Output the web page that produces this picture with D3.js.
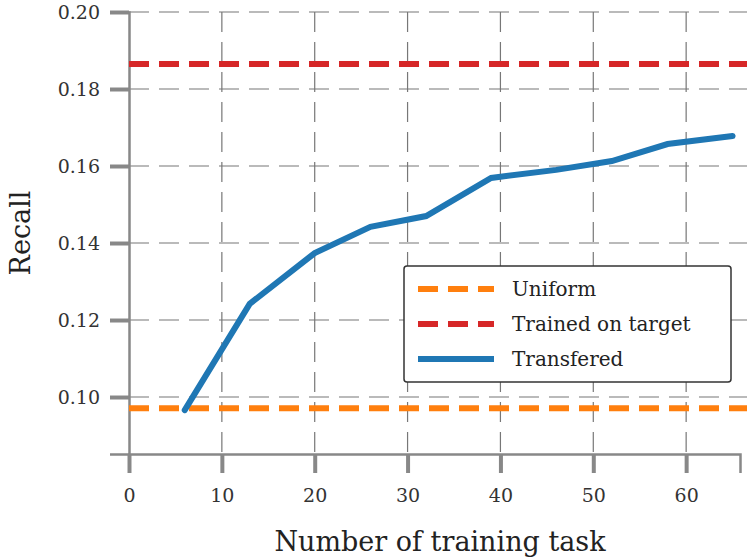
<!DOCTYPE html>
<html><head><meta charset="utf-8">
<script src="https://cdn.jsdelivr.net/npm/d3@7"></script>
<style>body{margin:0;background:#fff}text{font-family:"DejaVu Serif",serif}</style>
</head><body>
<script>
const tasks = [6, 13, 20, 26, 32, 39, 46, 52, 58, 65];
const transfered = [0.0966, 0.1242, 0.1374, 0.1442, 0.147, 0.1569, 0.159, 0.1613, 0.1657, 0.1678];
const uniform = 0.0971;
const target = 0.1865;
const xTicks = [0, 10, 20, 30, 40, 50, 60];
const yTicks = [0.10, 0.12, 0.14, 0.16, 0.18, 0.20];

const W = 747, H = 560;
const m = {left: 129, top: 12, right: 7, bottom: 106};
const svg = d3.select('body').append('svg').attr('width', W).attr('height', H);

const x = d3.scaleLinear().domain([0, 65.8]).range([m.left, W - m.right]);
const y = d3.scaleLinear().domain([0.0852, 0.20]).range([H - m.bottom, m.top]);

// grid
svg.append('g').selectAll('line').data(xTicks.slice(1)).enter().append('line')
  .attr('x1', d => x(d)).attr('x2', d => x(d)).attr('y1', y.range()[1]).attr('y2', y.range()[0])
  .attr('stroke', '#777').attr('stroke-width', 1.2).attr('stroke-dasharray', '20,10');
svg.append('g').selectAll('line').data(yTicks).enter().append('line')
  .attr('x1', m.left).attr('x2', W).attr('y1', d => y(d)).attr('y2', d => y(d))
  .attr('stroke', '#777').attr('stroke-width', 1.2).attr('stroke-dasharray', '20,10');

// axes
const yAxis = svg.append('g').attr('transform', `translate(${m.left},0)`)
  .call(d3.axisLeft(y).tickValues(yTicks).tickFormat(d3.format('.2f')).tickSize(19).tickPadding(10));
const xAxis = svg.append('g').attr('transform', `translate(0,${H - m.bottom})`)
  .call(d3.axisBottom(x).tickValues(xTicks).tickSize(19).tickPadding(16));
[xAxis, yAxis].forEach(g => {
  g.select('.domain').attr('stroke', '#888').attr('stroke-width', 2.5);
  g.selectAll('.tick line').attr('stroke', '#888').attr('stroke-width', 4);
  g.selectAll('.tick text').attr('fill', '#333').attr('font-size', 19);
});

// lines
svg.append('line').attr('x1', x(0)).attr('x2', W).attr('y1', y(uniform)).attr('y2', y(uniform))
  .attr('stroke', '#ff7f0e').attr('stroke-width', 6).attr('stroke-dasharray', '20,10');
svg.append('line').attr('x1', x(0)).attr('x2', W).attr('y1', y(target)).attr('y2', y(target))
  .attr('stroke', '#d62728').attr('stroke-width', 6).attr('stroke-dasharray', '20,10');
svg.append('path').datum(tasks.map((t, i) => [t, transfered[i]]))
  .attr('d', d3.line().x(d => x(d[0])).y(d => y(d[1])))
  .attr('fill', 'none').attr('stroke', '#1f77b4').attr('stroke-width', 6).attr('stroke-linecap', 'round');

// labels
svg.append('text').attr('x', 440).attr('y', 551).attr('text-anchor', 'middle')
  .attr('font-size', 27).attr('fill', '#222').text('Number of training task');
svg.append('text').attr('transform', 'translate(30,' + (y.range()[1] + y.range()[0]) / 2 + ') rotate(-90)')
  .attr('text-anchor', 'middle').attr('font-size', 27).attr('fill', '#222').text('Recall');

// legend
const lg = svg.append('g').attr('transform', 'translate(404,266)');
lg.append('rect').attr('width', 327).attr('height', 116).attr('rx', 3)
  .attr('fill', '#fff').attr('stroke', '#333').attr('stroke-width', 1.5);
const items = [['Uniform', '#ff7f0e', '20,10'], ['Trained on target', '#d62728', '20,10'], ['Transfered', '#1f77b4', null]];
items.forEach((it, i) => {
  const yy = 23 + i * 35;
  lg.append('line').attr('x1', 14).attr('x2', 90).attr('y1', yy).attr('y2', yy)
    .attr('stroke', it[1]).attr('stroke-width', 6).attr('stroke-dasharray', it[2]);
  lg.append('text').attr('x', 108).attr('y', yy + 7).attr('font-size', 20).attr('fill', '#222').text(it[0]);
});
</script>
</body></html>
